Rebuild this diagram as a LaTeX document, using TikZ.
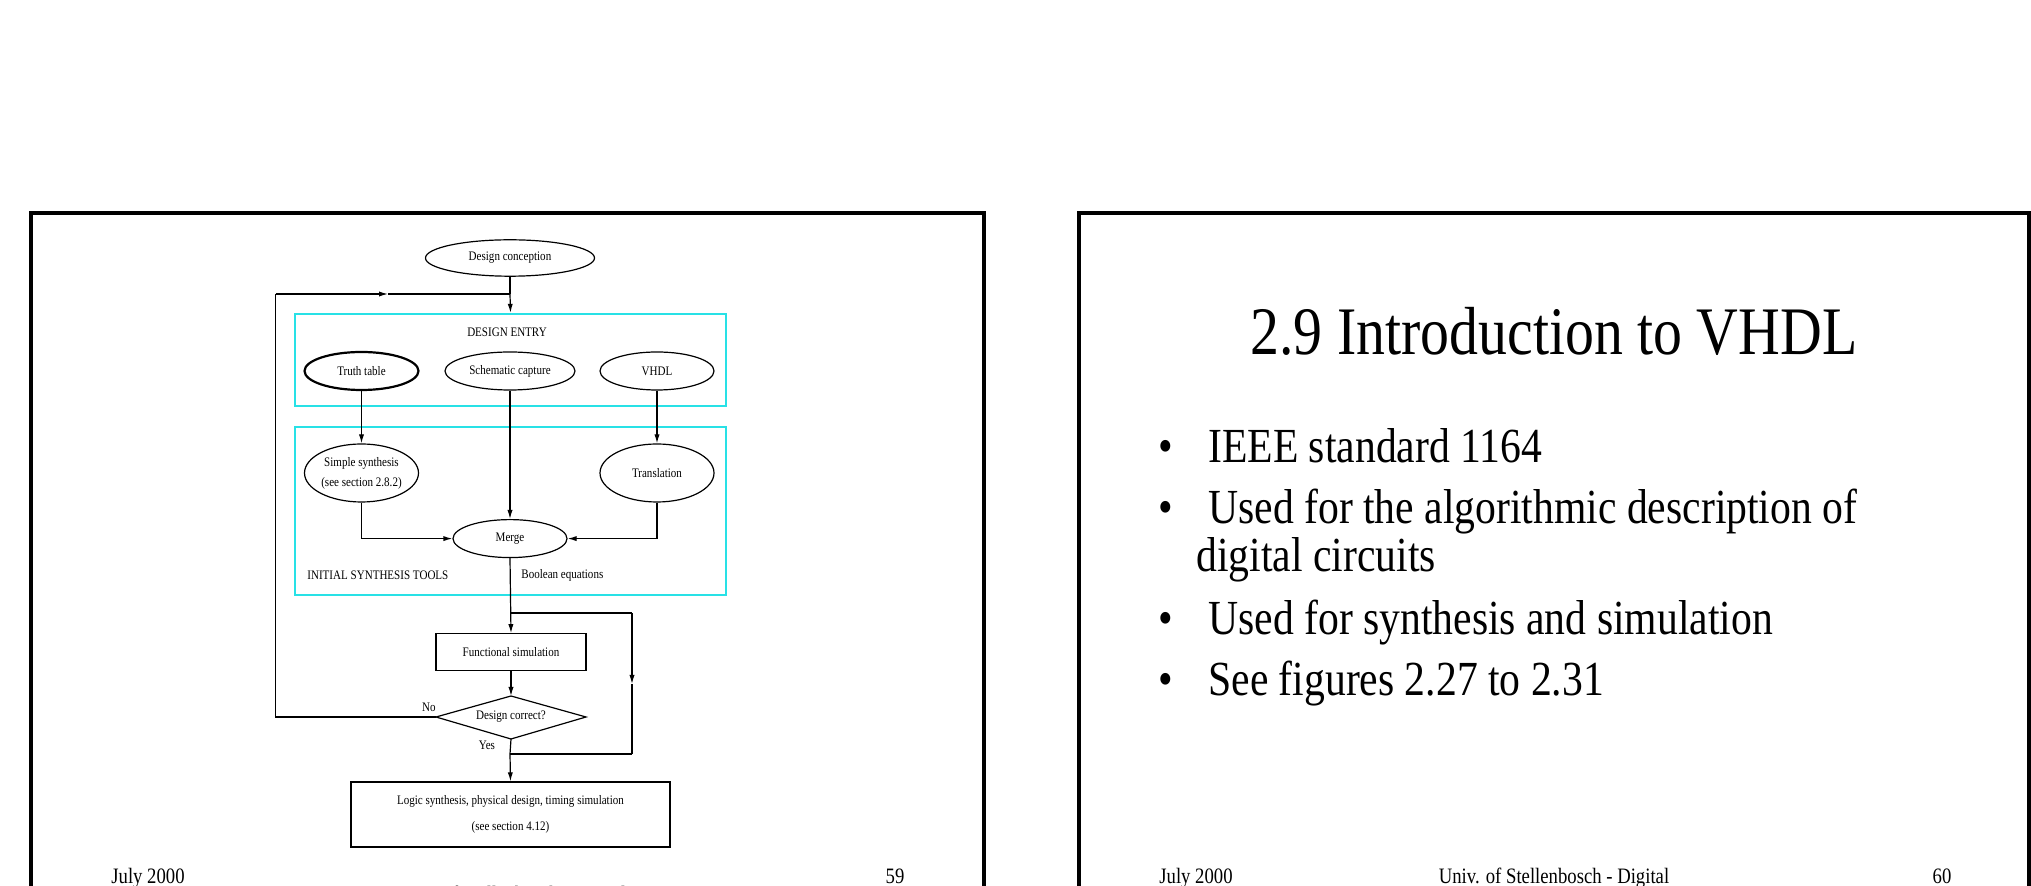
\documentclass[tikz,border=0pt]{standalone}
\usepackage{fontspec}
\setmainfont{Liberation Serif}[FakeStretch=0.85]
\usetikzlibrary{shapes.geometric,arrows.meta}
\definecolor{cyanline}{RGB}{40,225,230}
\begin{document}
\begin{tikzpicture}[x=0.5pt,y=-0.5pt,
  el/.style={draw,ellipse,inner sep=0pt,line width=0.6pt,font=\fontsize{6.5}{8}\selectfont,align=center},
  bx/.style={draw,rectangle,inner sep=0pt,line width=0.6pt,font=\fontsize{6.5}{8}\selectfont,align=center},
  cy/.style={draw=cyanline,rectangle,inner sep=0pt,line width=0.9pt},
  lbl/.style={inner sep=0pt,font=\fontsize{6.5}{8}\selectfont},
  ln/.style={line width=0.6pt},
  arr/.style={line width=0.6pt,-{Latex[length=4.5pt,width=2.6pt]}},
  frame/.style={line width=1.6pt},
  foot/.style={inner sep=0pt,font=\fontsize{11}{13}\selectfont},
  bul/.style={inner sep=0pt,anchor=base west,font=\fontsize{24.5}{28}\selectfont}]
\useasboundingbox (0,0) rectangle (2031,886);
\clip (0,0) rectangle (2031,886);
\fill[white] (0,0) rectangle (2031,886);
% frames
\draw[frame] (31,1000) -- (31,213) -- (984,213) -- (984,1000);
\draw[frame] (1079,1000) -- (1079,213) -- (2029,213) -- (2029,1000);
% cyan boxes
\node[cy,minimum width=215.5pt,minimum height=46.25pt] (box1) at (510.5,360) {};
\node[cy,minimum width=215.5pt,minimum height=84.2pt] (box2) at (510.5,511) {};
% nodes
\node[el,minimum width=84.5pt,minimum height=18.2pt] (dc) at (510,258) {Design conception};
\node[lbl] (de) at (507,332.5) {DESIGN ENTRY};
\node[el,line width=1.1pt,minimum width=57pt,minimum height=19pt] (tt) at (361.5,371) {Truth table};
\node[el,minimum width=65pt,minimum height=19pt] (sc) at (510,371) {Schematic capture};
\node[el,minimum width=57pt,minimum height=19pt] (vh) at (657,371) {VHDL};
\node[el,minimum width=57pt,minimum height=29pt] (ss) at (361.5,473) {Simple synthesis\\[2pt](see section 2.8.2)};
\node[el,minimum width=57pt,minimum height=29pt] (tr) at (657,473) {Translation};
\node[el,minimum width=57pt,minimum height=19pt] (mg) at (510,538.6) {Merge};
\node[lbl,anchor=west] (ist) at (307,575) {INITIAL SYNTHESIS TOOLS};
\node[lbl,anchor=west] (be) at (521,575) {Boolean equations};
\node[bx,minimum width=75pt,minimum height=18.25pt] (fs) at (511,652) {Functional simulation};
% decision diamond
\node[lbl] (dq) at (511,717) {Design correct?};
\coordinate (dqN) at (511,696);
\coordinate (dqS) at (511,739);
\coordinate (dqW) at (436,717);
\coordinate (dqE) at (586,717);
\draw[ln] (dqN) -- (dqE) -- (dqS) -- (dqW) -- cycle;
\node[lbl,anchor=east] (no) at (436,707.5) {No};
\node[lbl] (yes) at (487,745) {Yes};
\node[bx,minimum width=159.5pt,minimum height=32.5pt] (ls) at (510.5,814.5) {Logic synthesis, physical design, timing simulation\\[5pt](see section 4.12)};
% coordinates
\coordinate (j1) at (510,294);
\coordinate (fl) at (275.5,294);
\coordinate (fm) at (388,294);
\coordinate (fb) at (275.5,717);
\coordinate (b1) at (510,613);
\coordinate (b2) at (632,613);
\coordinate (bm) at (632,684);
\coordinate (b3) at (632,754);
\coordinate (b4) at (510,754);
% connectors
\draw[ln] (dc.south) -- (j1);
\draw[arr] (j1) -- (box1.north);
\draw[arr] (tt.south) -- (ss.north);
\draw[arr] (vh.south) -- (tr.north);
\draw[arr] (sc.south) -- (mg.north);
\draw[arr] (ss.south) |- (mg.west);
\draw[arr] (tr.south) |- (mg.east);
\draw[arr] (mg.south) -- (fs.north);
\draw[ln] (b1) -- (b2);
\draw[arr] (b2) -- (bm);
\draw[ln] (bm) -- (b3);
\draw[line width=1.2pt] (b3) -- (b4);
\draw[arr] (fs.south) -- (dqN);
\draw[ln] (dqS) -- (b4);
\draw[arr] (b4) -- (ls.north);
\draw[ln] (dqW) -- (fb) -- (fl);
\draw[arr] (fl) -- (fm);
\draw[ln] (fm) -- (j1);
% left footer
\node[foot,anchor=base west] (f1) at (111,884) {July 2000};
\node[foot,anchor=base] (f2) at (895,884) {59};
\node[foot,anchor=base] (f3) at (511,902) {Univ. of Stellenbosch - Digital};
% right slide
\node[inner sep=0pt,anchor=base,font=\fontsize{34}{40}\selectfont] (title) at (1554,355) {2.9 Introduction to VHDL};
\node[bul] (i1) at (1158,462.5) {\textbullet};
\node[bul] (t1) at (1208,462.5) {IEEE standard 1164};
\node[bul] (i2) at (1158,523.5) {\textbullet};
\node[bul] (t2) at (1208,523.5) {Used for the algorithmic description of};
\node[bul] (t2b) at (1196,572) {digital circuits};
\node[bul] (i3) at (1158,635) {\textbullet};
\node[bul] (t3) at (1208,635) {Used for synthesis and simulation};
\node[bul] (i4) at (1158,695.5) {\textbullet};
\node[bul] (t4) at (1208,695.5) {See figures 2.27 to 2.31};
\node[foot,anchor=base west] (g1) at (1159,884) {July 2000};
\node[foot,anchor=base] (g2) at (1554,884) {Univ. of Stellenbosch - Digital};
\node[foot,anchor=base] (g3) at (1942,884) {60};
\end{tikzpicture}
\end{document}
